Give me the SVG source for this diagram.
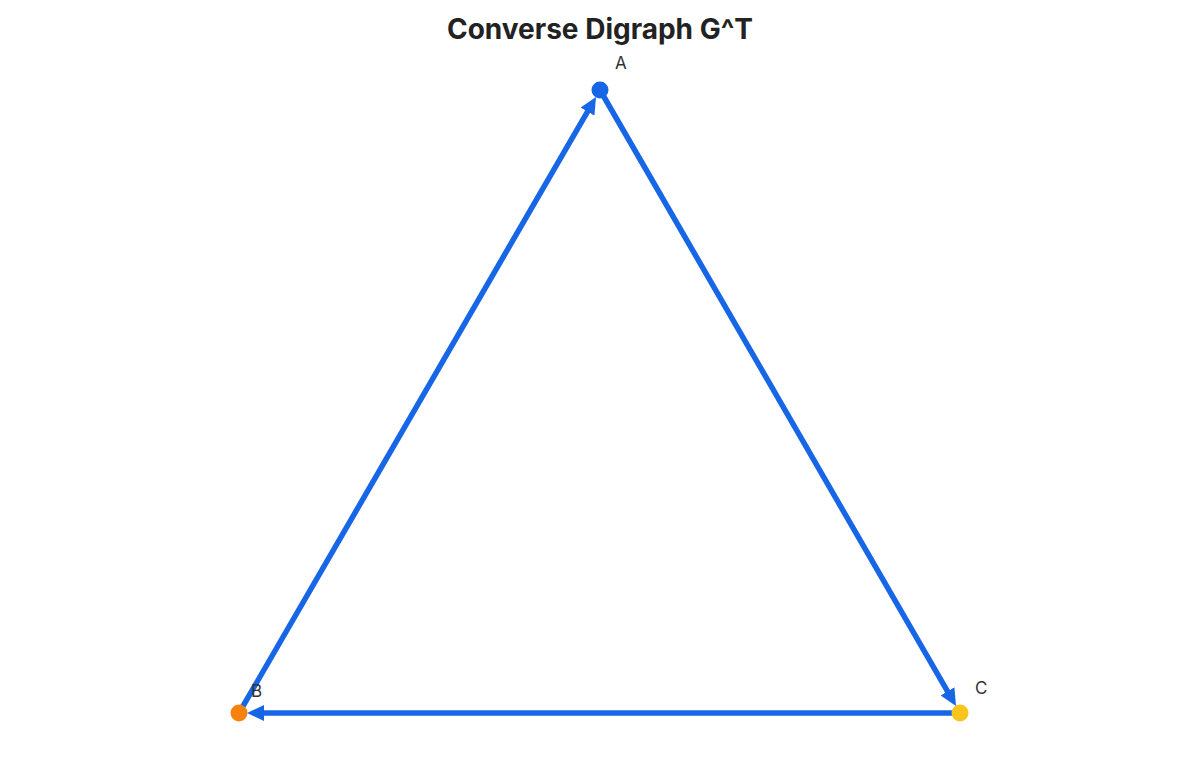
<svg xmlns="http://www.w3.org/2000/svg" width="1200" height="763" viewBox="0 0 1200 763">
<style>
.title{font-family:Inter,"Liberation Sans",sans-serif;font-weight:700;font-size:28px;fill:#222;}
.lbl{font-family:Inter,"Liberation Sans",sans-serif;font-size:17px;fill:#333;}
.edge{stroke:#1766e6;stroke-width:5.5;fill:none;marker-end:url(#arr);}
</style>
<defs>
<marker id="arr" markerUnits="userSpaceOnUse" markerWidth="17" markerHeight="16" refX="5" refY="8" orient="auto">
<path d="M0,0 L17,8 L0,16 z" fill="#1766e6"/>
</marker>
</defs>
<rect width="1200" height="763" fill="#fff"/>
<text class="title" x="600" y="39" text-anchor="middle">Converse Digraph G^T</text>
<g id="edges">
<line class="edge" x1="600" y1="90" x2="950" y2="695.7"/>
<line class="edge" x1="960" y1="713" x2="259" y2="713"/>
<line class="edge" x1="239" y1="713" x2="590" y2="107.3"/>
</g>
<g id="node-A">
<circle cx="600" cy="90" r="8.5" fill="#1766e6"/>
<text class="lbl" x="615" y="69">A</text>
</g>
<g id="node-B">
<circle cx="239" cy="713" r="8.5" fill="#f5820d"/>
<text class="lbl" x="251" y="697">B</text>
</g>
<g id="node-C">
<circle cx="960" cy="713" r="8.5" fill="#f8c51c"/>
<text class="lbl" x="975" y="694">C</text>
</g>
</svg>
